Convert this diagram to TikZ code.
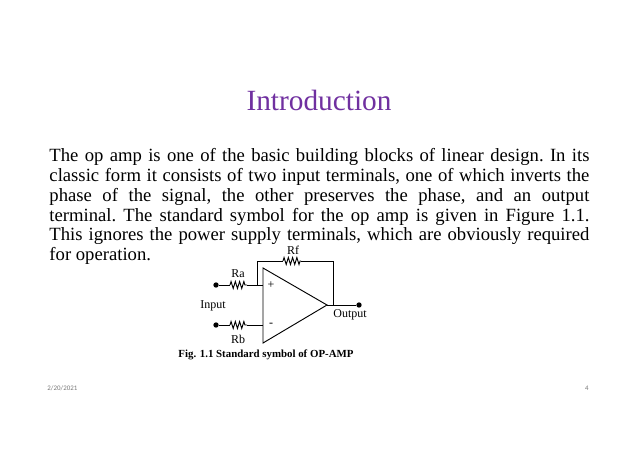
\documentclass[tikz,border=0pt]{standalone}
\usepackage{fontspec}
\setmainfont{Liberation Serif}
\newfontfamily\footfont{Carlito}
\usetikzlibrary{decorations.pathmorphing}
\definecolor{titlepurple}{RGB}{112,48,160}
\definecolor{footgray}{RGB}{120,120,120}

\begin{document}
\begin{tikzpicture}[x=0.75pt,y=-0.75pt,line width=0.7pt]
    \tikzstyle{terminal}=[circle,fill=black,minimum size=4pt,inner sep=0pt]
    \tikzstyle{lbl}=[inner sep=0pt,font=\fontsize{9}{9}\selectfont]
    \tikzstyle{res}=[decorate,decoration={zigzag,amplitude=2.6pt,segment length=3.2pt}]
    \useasboundingbox (0,0) rectangle (638,452);

    \node[text=titlepurple,font=\fontsize{22}{22}\selectfont] (title) at (319,100) {Introduction};
    \node[anchor=north west,inner sep=0pt,text width=405pt,align=justify,
        font=\frenchspacing\fontsize{14}{14.85}\selectfont] (body) at (49,148) {The op amp is one of the basic building blocks of linear design. In its\linebreak
        classic form it consists of two input terminals, one of which inverts the\linebreak
        phase of the signal, the other preserves the phase, and an output\linebreak
        terminal. The standard symbol for the op amp is given in Figure 1.1.\linebreak
        This ignores the power supply terminals, which are obviously required\linebreak
        for operation.};

    % op amp
    \coordinate (A-top) at (263,268);
    \coordinate (A-bot) at (263,343);
    \coordinate (A-tip) at (327,305);
    \draw (A-top) -- (A-bot) -- (A-tip) -- cycle;
    \node[lbl] (plus) at (271,285) {+};
    \node[lbl] (minus) at (271,325) {-};

    \node[terminal] (T-a) at (216,285) {};
    \node[terminal] (T-b) at (216,325) {};
    \node[terminal] (T-o) at (359,305) {};

    \foreach \name/\xa/\xb/\y in {Ra/230/247/285, Rb/230/247/325, Rf/283/301/261} {
        \coordinate (\name-in) at (\xa,\y);
        \coordinate (\name-out) at (\xb,\y);
        \draw[res] (\name-in) -- (\name-out);
    }
    \coordinate (J-a) at (257,285);
    \coordinate (J-o) at (333,305);
    \coordinate (F-a) at (257,261);
    \coordinate (F-o) at (333,261);
    \coordinate (P-a) at (263,285);
    \coordinate (P-b) at (263,325);

    \draw (T-a) -- (Ra-in);
    \draw (Ra-out) -- (P-a);
    \draw (T-b) -- (Rb-in);
    \draw (Rb-out) -- (P-b);
    \draw (J-a) -- (F-a) -- (Rf-in);
    \draw (Rf-out) -- (F-o) -- (J-o);
    \draw (A-tip) -- (T-o);

    \node[lbl] (L-a) at (238,274) {Ra};
    \node[lbl] (L-b) at (238,339) {Rb};
    \node[lbl] (L-f) at (293,250) {Rf};
    \node[lbl] (L-i) at (213,306) {Input};
    \node[lbl] (L-o) at (350,315) {Output};

    \node[inner sep=0pt,font=\bfseries\fontsize{8.15}{9}\selectfont] (caption) at (266,355) {Fig. 1.1 Standard symbol of OP-AMP};

    \node[anchor=west,inner sep=0pt,text=footgray,font=\footfont\fontsize{5.2}{6}\selectfont] (date) at (47,388) {2/20/2021};
    \node[anchor=east,inner sep=0pt,text=footgray,font=\footfont\fontsize{5.2}{6}\selectfont] (page) at (589,388) {4};
\end{tikzpicture}
\end{document}
